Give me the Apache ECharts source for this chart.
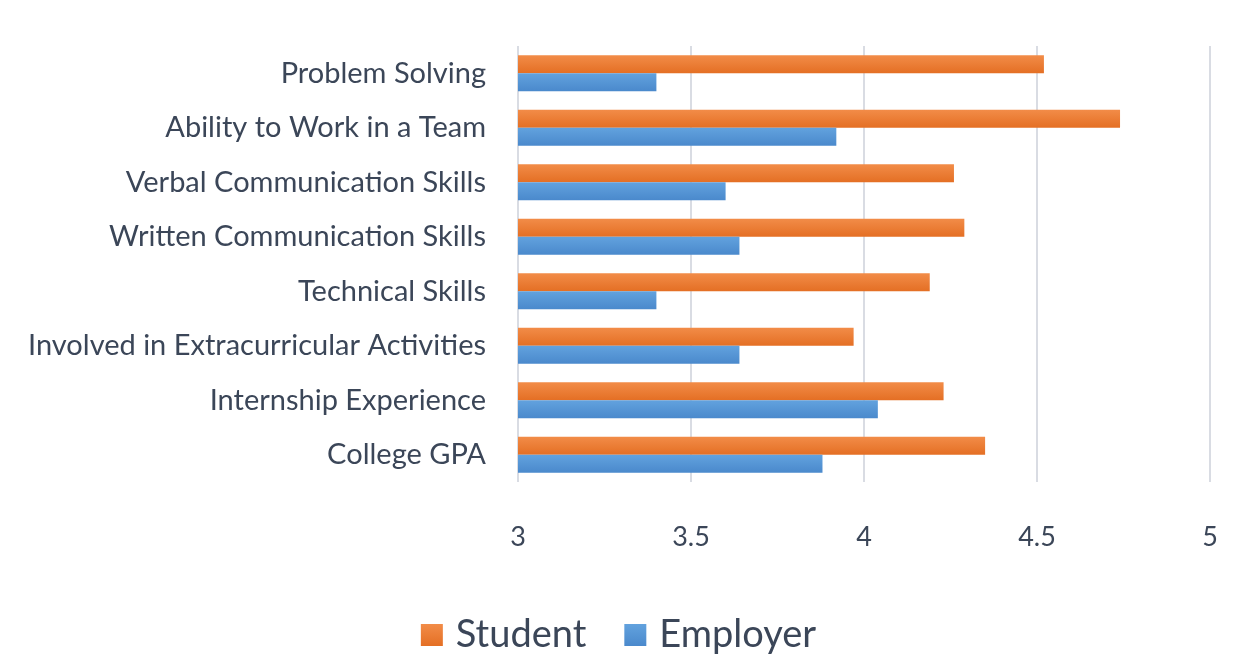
<!DOCTYPE html>
<html>
<head>
<meta charset="utf-8">
<script src="https://cdn.jsdelivr.net/npm/echarts@6/dist/echarts.min.js"></script>
<style>
  html, body { margin: 0; padding: 0; background: #fff; }
  #main { width: 1237px; height: 671px; }
</style>
</head>
<body>
<div id="main"></div>
<script>
var categories = [
  'Problem Solving',
  'Ability to Work in a Team',
  'Verbal Communication Skills',
  'Written Communication Skills',
  'Technical Skills',
  'Involved in Extracurricular Activities',
  'Internship Experience',
  'College GPA'
];
var studentValues  = [4.52, 4.74, 4.26, 4.29, 4.19, 3.97, 4.23, 4.35];
var employerValues = [3.40, 3.92, 3.60, 3.64, 3.40, 3.64, 4.04, 3.88];
var xTicks = [3, 3.5, 4, 4.5, 5];

var textColor = '#3b4658';

function grad(top, bottom) {
  return new echarts.graphic.LinearGradient(0, 0, 0, 1, [
    { offset: 0, color: top },
    { offset: 1, color: bottom }
  ]);
}

var myChart = echarts.init(document.getElementById('main'));

myChart.setOption({
  animation: false,
  textStyle: { fontFamily: 'Lato' },
  grid: { left: 518, right: 27, top: 46, bottom: 189 },
  legend: {
    bottom: 12,
    left: 'center',
    itemWidth: 22,
    itemHeight: 22,
    itemGap: 38,
    icon: 'rect',
    textStyle: { fontSize: 38, color: textColor, fontFamily: 'Lato', padding: [0, 0, 0, 8] },
    data: ['Student', 'Employer']
  },
  xAxis: {
    type: 'value',
    min: xTicks[0],
    max: xTicks[xTicks.length - 1],
    interval: 0.5,
    axisLine: { show: false },
    axisTick: { show: false },
    splitLine: { lineStyle: { color: '#d9dce3', width: 2 } },
    axisLabel: { fontSize: 27, color: textColor, margin: 42 }
  },
  yAxis: {
    type: 'category',
    inverse: true,
    data: categories,
    axisLine: { show: false },
    axisTick: { show: false },
    axisLabel: { fontSize: 29, color: textColor, margin: 32 }
  },
  series: [
    {
      name: 'Student',
      type: 'bar',
      data: studentValues,
      barWidth: 18,
      barGap: '0%',
      barCategoryGap: '34%',
      itemStyle: { color: grad('#f28c48', '#e46f24') }
    },
    {
      name: 'Employer',
      type: 'bar',
      data: employerValues,
      barWidth: 18,
      itemStyle: { color: grad('#62a2de', '#4a89cc') }
    }
  ]
});
</script>
</body>
</html>
